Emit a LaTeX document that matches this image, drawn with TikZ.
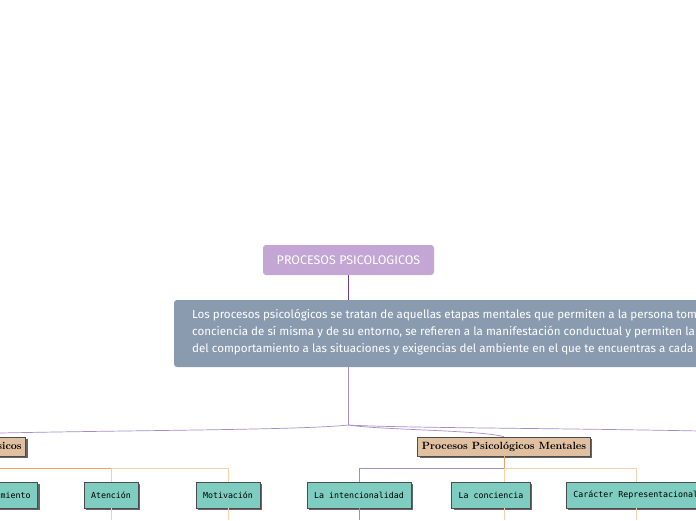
\documentclass[tikz,border=0pt]{standalone}
\usepackage{fontspec}
\setsansfont{Fira Sans}
\setmonofont{DejaVu Sans Mono}
\usetikzlibrary{shadows}
\definecolor{ttl}{HTML}{C3A6D4}
\definecolor{dsc}{HTML}{8A9BB0}
\definecolor{tan}{HTML}{E0C0A0}
\definecolor{teal}{HTML}{7ECDC0}
\definecolor{lpur}{HTML}{A98BC8}
\definecolor{dpur}{HTML}{6A3D8A}
\definecolor{org}{HTML}{F0A060}
\definecolor{lorg}{HTML}{F8CFA8}
\begin{document}
\begin{tikzpicture}[x=1pt,y=-1pt,
  cat/.style={draw=black!70,fill=tan,line width=0.6pt,minimum height=19pt,inner xsep=4pt,font=\bfseries\fontsize{10.5}{12}\selectfont,drop shadow={shadow xshift=2pt,shadow yshift=-2pt,fill=black!60,opacity=1}},
  leaf/.style={draw=black!70,fill=teal,line width=0.6pt,minimum height=26pt,inner xsep=7pt,font=\ttfamily\fontsize{8.3}{10}\selectfont,drop shadow={shadow xshift=2pt,shadow yshift=-2pt,fill=black!60,opacity=1}},
  lp/.style={lpur,line width=0.7pt},
  lo/.style={lorg,line width=0.7pt}]
\useasboundingbox (0,0) rectangle (696,520);
\node[fill=ttl,rounded corners=3pt,minimum width=171pt,minimum height=30pt,text=white,font=\sffamily\fontsize{12.5}{14}\selectfont] (t) at (348.5,260) {PROCESOS PSICOLOGICOS};
\fill[dsc,rounded corners=3pt] (174,300) rectangle (900,367);
\node[anchor=north west,text=white,align=left,inner sep=0pt,font=\sffamily\fontsize{11.6}{17}\selectfont] (d) at (192,309) {Los procesos psicológicos se tratan de aquellas etapas mentales que permiten a la persona tomar\\conciencia de sí misma y de su entorno, se refieren a la manifestación conductual y permiten la adaptación\\del comportamiento a las situaciones y exigencias del ambiente en el que te encuentras a cada momento.};
\draw[dpur,line width=1pt] (t.south) -- (348.5,300);
\coordinate (h) at (348.5,415);
\coordinate (j) at (348.5,425);
\draw[lp] (348.5,367) -- (h) -- (j);
\node[cat,anchor=east] (b) at (26,446.5) {Procesos Psicológicos Básicos};
\node[cat] (m) at (504,446.5) {Procesos Psicológicos Mentales};
\draw[lp] (j) .. controls (300,430) and (150,430) .. (0,433);
\draw[lp] (j) .. controls (380,430) and (480,430) .. (m.north);
\draw[lp] (j) .. controls (400,428) and (550,428) .. (700,431);
\node[leaf,anchor=east] (l1) at (38,495) {Pensamiento};
\node[leaf] (l2) at (111,495) {Atención};
\node[leaf] (l3) at (228,495) {Motivación};
\node[leaf] (l4) at (359,495) {La intencionalidad};
\node[leaf] (l5) at (491,495) {La conciencia};
\node[leaf,anchor=west] (l6) at (566,495) {Carácter Representacional};
\draw[org,line width=0.7pt] (0,468) -- (111,468);
\draw[lo] (111,468) -- (228,468);
\draw[lo] (l2.north) -- (111,468) ; \draw[lo] (l3.north) -- (228,468);
\draw[org,line width=0.8pt] (m.south) -- (504,468);
\draw[lp] (504,468) -- (359,468) -- (l4.north);
\draw[lo] (504,468) -- (636,468) -- (636,482);
\draw[lo] (504,468) -- (504,482);
\draw[lo] (l2.south) -- (111,520); \draw[lo] (l3.south) -- (228,520);
\draw[lp] (l4.south) -- (359,520); \draw[lo] (504,508) -- (504,520); \draw[lo] (636,508) -- (636,520);
\end{tikzpicture}
\end{document}
